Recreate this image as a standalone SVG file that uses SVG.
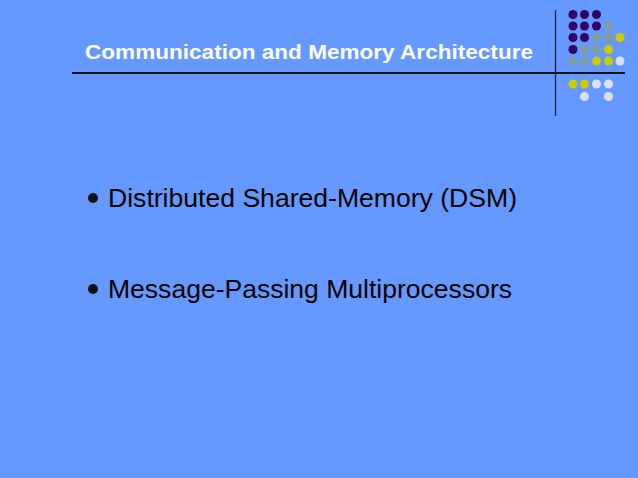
<svg xmlns="http://www.w3.org/2000/svg" width="638" height="478" viewBox="0 0 638 478">
<style>
.p{fill:#330066}.g{fill:#7f9f9f}.y{fill:#cccc00}.w{fill:#dde0f4}
.t{font-family:"Liberation Sans",Arial,sans-serif}
</style>
<rect width="638" height="478" fill="#6699ff"/>
<g id="decor">
<line x1="555.5" y1="10" x2="555.5" y2="116" stroke="#1a1a4a" stroke-width="1.3"/>
<line x1="72" y1="73" x2="625" y2="73" stroke="#111" stroke-width="2"/>
<g>
<circle class="p" cx="573" cy="14.5" r="4.5"/><circle class="p" cx="584.5" cy="14.5" r="4.5"/><circle class="p" cx="596.5" cy="14.5" r="4.5"/>
<circle class="p" cx="573" cy="26" r="4.5"/><circle class="p" cx="584.5" cy="26" r="4.5"/><circle class="p" cx="596.5" cy="26" r="4.5"/><circle class="g" cx="608.5" cy="26" r="4.5"/>
<circle class="p" cx="573" cy="37.5" r="4.5"/><circle class="p" cx="584.5" cy="37.5" r="4.5"/><circle class="g" cx="596.5" cy="37.5" r="4.5"/><circle class="g" cx="608.5" cy="37.5" r="4.5"/><circle class="y" cx="620" cy="37.5" r="4.5"/>
<circle class="p" cx="573" cy="49.5" r="4.5"/><circle class="g" cx="584.5" cy="49.5" r="4.5"/><circle class="g" cx="596.5" cy="49.5" r="4.5"/><circle class="y" cx="608.5" cy="49.5" r="4.5"/>
<circle class="g" cx="573" cy="61" r="4.5"/><circle class="g" cx="584.5" cy="61" r="4.5"/><circle class="y" cx="596.5" cy="61" r="4.5"/><circle class="y" cx="608.5" cy="61" r="4.5"/><circle class="w" cx="620" cy="61" r="4.5"/>
<circle class="y" cx="573" cy="84" r="4.5"/><circle class="y" cx="584.5" cy="84" r="4.5"/><circle class="w" cx="596.5" cy="84" r="4.5"/><circle class="w" cx="608.5" cy="84" r="4.5"/>
<circle class="w" cx="584.5" cy="96.5" r="4.5"/><circle class="w" cx="608.5" cy="96.5" r="4.5"/>
</g>
</g>
<g id="title"><text class="t" x="85" y="59" font-size="20" font-weight="bold" fill="#fff" textLength="448" lengthAdjust="spacingAndGlyphs">Communication and Memory Architecture</text></g>
<g id="bullet1"><circle cx="93" cy="198" r="5" fill="#111"/><text class="t" x="108" y="207" font-size="25" fill="#000" textLength="409" lengthAdjust="spacingAndGlyphs">Distributed Shared-Memory (DSM)</text></g>
<g id="bullet2"><circle cx="93" cy="289" r="5" fill="#111"/><text class="t" x="108" y="298" font-size="25" fill="#000" textLength="404" lengthAdjust="spacingAndGlyphs">Message-Passing Multiprocessors</text></g>
</svg>
